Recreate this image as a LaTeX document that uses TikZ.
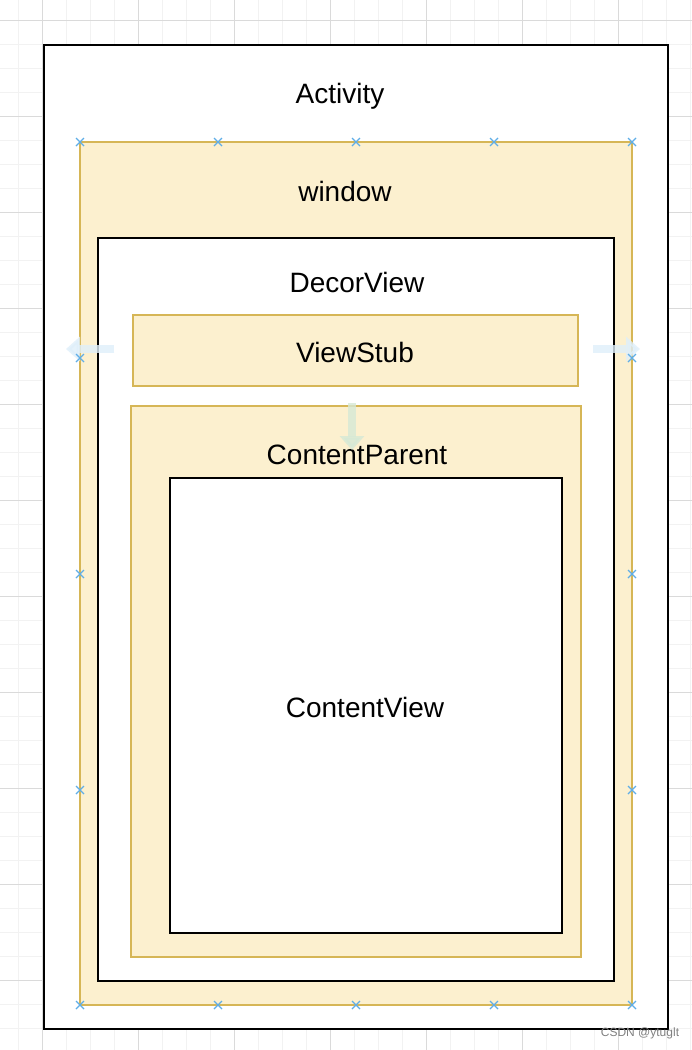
\documentclass[tikz,border=0pt]{standalone}
\usepackage{fontspec}
\setmainfont{Liberation Sans}
\usetikzlibrary{arrows.meta}
\definecolor{yfill}{HTML}{FCF0CF}
\definecolor{ystroke}{HTML}{D6B656}
\definecolor{xblue}{HTML}{5FAEE8}
\definecolor{gminor}{HTML}{F2F2F2}
\definecolor{gmajor}{HTML}{DADADA}
\begin{document}
\begin{tikzpicture}[x=1pt,y=-1pt,
  blk/.style={draw=black,line width=2pt,fill=white},
  yel/.style={draw=ystroke,line width=2pt,fill=yfill},
  lbl/.style={font=\fontsize{28}{30}\selectfont,inner sep=0pt},
  xm/.style={xblue,line width=1.3pt},
  ghost/.style={line width=8pt,-{Triangle[length=14pt,width=24pt]}}]
\useasboundingbox (0,0) rectangle (692,1050);
\fill[white] (0,0) rectangle (692,1050);
\foreach \i in {-6,18,...,690} \draw[gminor,line width=1pt] (\i,0) -- (\i,1050);
\foreach \j in {-4,20,...,1050} \draw[gminor,line width=1pt] (0,\j) -- (692,\j);
\foreach \i in {42,138,...,690} \draw[gmajor,line width=1pt] (\i,0) -- (\i,1050);
\foreach \j in {20,116,...,1050} \draw[gmajor,line width=1pt] (0,\j) -- (692,\j);
\draw[blk] (44,45) rectangle (668,1029);
\draw[yel] (80,142) rectangle (632,1005);
\draw[blk] (98,238) rectangle (614,981);
\draw[yel] (133,315) rectangle (578,386);
\draw[yel] (131,406) rectangle (581,957);
\draw[blk] (170,478) rectangle (562,933);
\node[lbl] (activity) at (340,96) {Activity};
\node[lbl] (window) at (345,191) {window};
\node[lbl] (decor) at (357,282) {DecorView};
\node[lbl] (stub) at (355,352) {ViewStub};
\node[lbl] (parent) at (357,455) {ContentParent};
\node[lbl] (view) at (365,707) {ContentView};
\coordinate (la) at (114,349); \coordinate (lb) at (66,349);
\coordinate (ra) at (593,349); \coordinate (rb) at (640,349);
\coordinate (da) at (352,403); \coordinate (db) at (352,450);
\draw[ghost,color=xblue!20,opacity=0.8] (la) -- (lb);
\draw[ghost,color=xblue!20,opacity=0.8] (ra) -- (rb);
\draw[ghost,color=green!30!gray!25,opacity=0.8] (da) -- (db);
\foreach \p in {(80,142),(218,142),(356,142),(494,142),(632,142),
  (80,1005),(218,1005),(356,1005),(494,1005),(632,1005),
  (80,358),(80,574),(80,790),(632,358),(632,574),(632,790)}
  {\draw[xm] \p ++(-4,-4) -- ++(8,8); \draw[xm] \p ++(-4,4) -- ++(8,-8);}
\node[text=gray,font=\fontsize{12}{13}\selectfont,inner sep=0pt] (wm) at (640,1033) {CSDN @ytuglt};
\end{tikzpicture}
\end{document}
